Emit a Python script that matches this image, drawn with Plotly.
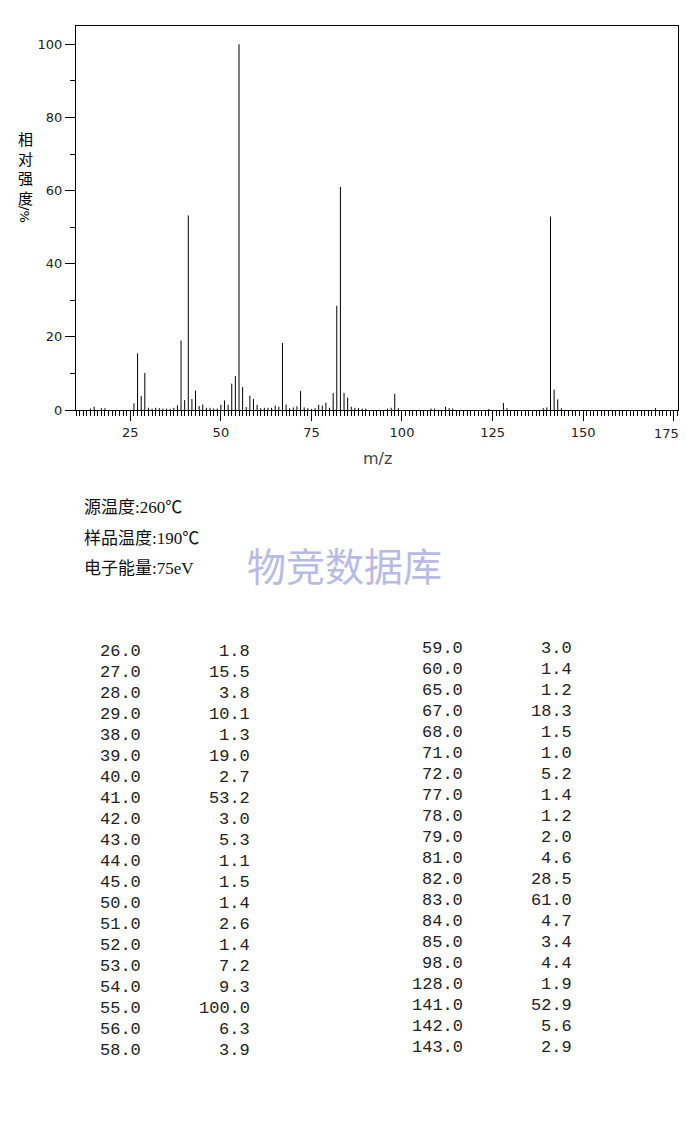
import plotly.graph_objects as go

# ---- data ----
peak_mz = [26, 27, 28, 29, 38, 39, 40, 41, 42, 43, 44, 45, 50, 51, 52, 53, 54, 55, 56, 58,
           59, 60, 65, 67, 68, 71, 72, 77, 78, 79, 81, 82, 83, 84, 85, 98, 128, 141, 142, 143]
peak_int = [1.8, 15.5, 3.8, 10.1, 1.3, 19.0, 2.7, 53.2, 3.0, 5.3, 1.1, 1.5, 1.4, 2.6, 1.4, 7.2, 9.3, 100.0, 6.3, 3.9,
            3.0, 1.4, 1.2, 18.3, 1.5, 1.0, 5.2, 1.4, 1.2, 2.0, 4.6, 28.5, 61.0, 4.7, 3.4, 4.4, 1.9, 52.9, 5.6, 2.9]

# small unlisted peaks seen in the spectrum (estimated)
minor_mz = [14, 15, 17, 18, 30, 31, 32, 33, 34, 35, 36, 37, 46, 47, 48, 49, 57, 61, 62, 63, 64, 66,
            69, 70, 73, 74, 75, 76, 80, 86, 87, 88, 89, 90, 96, 97, 99, 108, 109, 112, 113, 114,
            124, 129, 139, 140, 144, 170]
minor_int = [0.4, 0.9, 0.5, 0.5, 0.6, 0.4, 0.6, 0.5, 0.4, 0.4, 0.3, 0.6, 0.6, 0.6, 0.4, 0.4, 0.8, 0.5, 0.6, 0.6, 0.6, 0.9,
             0.5, 0.7, 0.7, 0.5, 0.3, 0.5, 0.6, 0.9, 0.6, 0.5, 0.4, 0.4, 0.4, 0.6, 0.5, 0.4, 0.4, 0.9, 0.5, 0.4,
             0.3, 0.5, 0.5, 0.7, 0.5, 0.5]

x_ticks = [25, 50, 75, 100, 125, 150, 175]
y_ticks = [0, 20, 40, 60, 80, 100]
info_labels = ["源温度:260", "样品温度:190", "电子能量:75eV"]
info_units = ["℃", "℃", ""]
y_title_cjk = ["相", "对", "强", "度"]
watermark = "物竞数据库"

# ---- geometry (screen pixels; page body has an 8px margin) ----
OFF = 8
W, H = 687 - 2 * OFF, 1100
L, R, T, B = 76 - OFF, 678 - OFF, 26 - OFF, 410 - OFF


def px(xs):
    return (xs - OFF - L) / (R - L)


def py(ys):
    return (B - (ys - OFF)) / (B - T)


# ---- bars as vertical lines ----
all_mz = list(peak_mz) + list(minor_mz)
all_int = list(peak_int) + list(minor_int)
bx, by = [], []
for m, v in zip(all_mz, all_int):
    bx += [m, m, None]
    by += [0, v, None]

fig = go.Figure()
fig.add_trace(go.Scatter(x=bx, y=by, mode="lines",
                         line=dict(color="black", width=1),
                         hoverinfo="skip", showlegend=False, cliponaxis=False))

tickfont = dict(family="DejaVu Sans, Verdana, sans-serif", size=13, color="#222")
# last x tick label is drawn as an annotation so it stays inside the page edge
x_ticktext = [str(t) for t in x_ticks[:-1]] + [""]
fig.update_layout(
    width=W, height=H,
    margin=dict(l=L, r=W - R, t=T, b=H - B, pad=0, autoexpand=False),
    paper_bgcolor="white", plot_bgcolor="white",
    showlegend=False,
    xaxis=dict(range=[10.0, 176.2], tickmode="array", tickvals=x_ticks,
               ticktext=x_ticktext, ticklabeloverflow="allow",
               ticks="outside", ticklen=10, tickwidth=1, tickcolor="black",
               minor=dict(dtick=1, tick0=0, ticks="outside", ticklen=5, tickwidth=1, tickcolor="black"),
               showline=True, linecolor="black", linewidth=1, mirror=True,
               showgrid=False, zeroline=False, tickfont=tickfont, fixedrange=True),
    yaxis=dict(range=[0, 105.0], tickmode="array", tickvals=y_ticks,
               ticktext=[str(t) for t in y_ticks], ticklabeloverflow="allow",
               ticks="outside", ticklen=10, tickwidth=1, tickcolor="black",
               minor=dict(dtick=10, tick0=0, ticks="outside", ticklen=5, tickwidth=1, tickcolor="black"),
               showline=True, linecolor="black", linewidth=1, mirror=True,
               showgrid=False, zeroline=False, tickfont=tickfont, fixedrange=True),
)

ann = []
ann.append(dict(x=x_ticks[-1], y=py(433), xref="x", yref="paper", text=str(x_ticks[-1]),
                showarrow=False, xanchor="right", yanchor="middle", xshift=7,
                font=tickfont))
# x axis label
ann.append(dict(x=px(377), y=py(458), xref="paper", yref="paper", text="m/z",
                showarrow=False, xanchor="center", yanchor="middle",
                font=dict(family="DejaVu Sans, sans-serif", size=16, color="#444")))
# y axis title (vertical stacked)
ann.append(dict(x=px(25), y=py(168), xref="paper", yref="paper",
                text="<br>".join(y_title_cjk), showarrow=False,
                xanchor="center", yanchor="middle",
                font=dict(family="Noto Sans CJK SC", size=15, color="#000")))
ann.append(dict(x=px(25), y=py(214), xref="paper", yref="paper",
                text="/%", textangle=90, showarrow=False,
                xanchor="center", yanchor="middle",
                font=dict(family="DejaVu Sans, sans-serif", size=13, color="#000")))

# info lines
for i, (t, u) in enumerate(zip(info_labels, info_units)):
    txt = t + (f'<span style="font-family:Noto Sans CJK SC">{u}</span>' if u else "")
    ann.append(dict(x=px(82), y=py(505 + i * 31.5), xref="paper", yref="paper", text=txt,
                    showarrow=False, xanchor="left", yanchor="middle",
                    font=dict(family="Liberation Serif, Noto Sans CJK SC", size=17, color="#111")))

# watermark
ann.append(dict(x=px(344), y=py(564), xref="paper", yref="paper", text=watermark,
                showarrow=False, xanchor="center", yanchor="middle",
                font=dict(family="Noto Sans CJK SC", size=39, color="rgb(186,186,230)")))

# peak table
tfont = dict(family="Courier New, Liberation Mono, monospace", size=17, color="#222")
half = len(peak_mz) // 2
cols = [(0, 143, 252, 651), (half, 465, 574, 648)]
for start, xm, xv, y0 in cols:
    for k in range(half):
        m = peak_mz[start + k]
        v = peak_int[start + k]
        yy = y0 + k * 21.0
        ann.append(dict(x=px(xm), y=py(yy), xref="paper", yref="paper", text=f"{m:.1f}",
                        showarrow=False, xanchor="right", yanchor="middle", font=tfont))
        ann.append(dict(x=px(xv), y=py(yy), xref="paper", yref="paper", text=f"{v:.1f}",
                        showarrow=False, xanchor="right", yanchor="middle", font=tfont))

fig.update_layout(annotations=ann)
fig.write_html("out.html")
